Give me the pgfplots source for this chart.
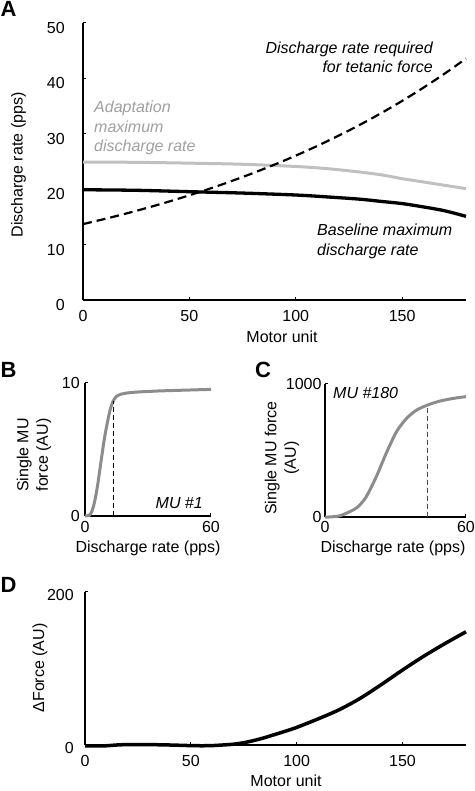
\documentclass[border=0pt]{standalone}
\usepackage{fontspec}
\setmainfont{Liberation Sans}
\usepackage{pgfplots}
\pgfplotsset{compat=1.18}
\definecolor{lgray}{RGB}{192,192,192}
\definecolor{tgray}{RGB}{160,160,160}
\definecolor{mgray}{RGB}{140,140,140}
\newcommand{\fs}{\fontsize{16}{19.5}\selectfont}
\pgfplotsset{
  myax/.style={
    scale only axis, axis lines=left, axis line style={-, line width=1.2pt},
    enlargelimits=false, clip=false,
    tick align=inside, major tick length=3pt, tick style={line width=1pt, black},
    /pgf/number format/assume math mode=true, /pgf/number format/1000 sep={},
    tick label style={font=\fs},
  }
}
\begin{document}
\begin{tikzpicture}[x=1pt,y=1pt]
\useasboundingbox (0,0) rectangle (474,791);
% ---------------- A
\begin{axis}[myax, at={(83pt,491pt)}, anchor=south west, width=383pt, height=277pt,
  xmin=0,xmax=180,ymin=0,ymax=50, xtick={0,50,100,150}, ytick={0,10,20,30,40,50},
  yticklabel style={xshift=-14.7pt, yshift=-5pt}, xticklabel style={yshift=-6.7pt}]
\addplot[lgray, line width=3pt, smooth, tension=0.5] coordinates {(0,24.9) (25,24.85) (50,24.7) (75,24.5) (100,24.1) (115,23.7) (130,23.1) (140,22.6) (150,21.9) (160,21.3) (170,20.7) (180,20.1)};
\addplot[black, line width=3.3pt, smooth, tension=0.5] coordinates {(0,19.9) (25,19.8) (50,19.55) (75,19.3) (100,18.95) (115,18.6) (130,18.2) (140,17.8) (150,17.4) (160,16.8) (170,16.1) (180,15.1)};
\addplot[black, line width=2.2pt, dash pattern=on 9pt off 5pt, smooth, tension=0.5] coordinates {(0,13.7) (10,14.61) (20,15.58) (30,16.62) (40,17.72) (50,18.90) (60,20.15) (70,21.49) (80,22.92) (90,24.44) (100,26.06) (110,27.79) (120,29.64) (130,31.60) (140,33.70) (150,35.94) (160,38.33) (170,40.87) (180,43.59)};
\end{axis}
% ---------------- B
\begin{axis}[myax, at={(85pt,275pt)}, anchor=south west, width=126pt, height=133pt,
  xmin=0,xmax=60,ymin=0,ymax=10, xtick={0,60}, ytick={0,10},
  yticklabel style={xshift=-1.7pt}, xticklabel style={yshift=-1.7pt}]
\addplot[mgray, line width=3pt, smooth, tension=0.4] coordinates {(0,0) (2,0.05) (3,0.25) (4,0.7) (5,1.4) (6,2.3) (7,3.4) (8,4.5) (9,5.6) (10,6.5) (11,7.3) (12,8.0) (13,8.5) (14,8.8) (15,9.0) (17,9.15) (20,9.25) (25,9.32) (35,9.4) (45,9.45) (60,9.52)};
\addplot[black, line width=1.2pt, dash pattern=on 5pt off 3pt] coordinates {(13.5,0) (13.5,8.65)};
\end{axis}
% ---------------- C
\begin{axis}[myax, at={(325pt,274pt)}, anchor=south west, width=141pt, height=133pt,
  xmin=0,xmax=60,ymin=0,ymax=1000, xtick={0,60}, ytick={0,1000},
  yticklabel style={xshift=0pt}, xticklabel style={yshift=-1pt}]
\addplot[mgray, line width=3pt, smooth, tension=0.5] coordinates {(0,0) (1.7,0) (6,8) (10.3,38) (13.9,75) (17.5,151) (21.8,302) (26,477) (30.4,640) (34.7,741) (39,804) (43.7,842) (49,872) (54.7,892) (60,905)};
\addplot[black!70, line width=1.2pt, dash pattern=on 5pt off 3pt] coordinates {(43.7,0) (43.7,838)};
\end{axis}
% ---------------- D
\begin{axis}[myax, at={(85pt,46pt)}, anchor=south west, width=381pt, height=153pt,
  xmin=0,xmax=180,ymin=0,ymax=200, xtick={0,50,100,150}, ytick={0,200},
  yticklabel style={xshift=-7.7pt, yshift=-3pt}, xticklabel style={yshift=-6.7pt}]
\addplot[black, line width=3.5pt, smooth, tension=0.5] coordinates {(0,-1) (5,-1) (10,-1) (15,0) (20,0.5) (30,0.5) (40,0) (50,-0.8) (55,-1) (60,-0.8) (65,0) (70,1) (75,3) (80,6) (85,9.7) (90,14) (95,18.3) (100,23) (110,34) (120,46) (130,61) (140,79) (150,98) (160,116) (170,132.5) (180,148)};
\end{axis}
% ---------------- texts
\node[anchor=north west, inner sep=0, font=\fontsize{22}{26}\selectfont\bfseries] at (0.5pt,790pt) {A};
\node[anchor=north west, inner sep=0, font=\fontsize{22}{26}\selectfont\bfseries] at (0.5pt,429pt) {B};
\node[anchor=north west, inner sep=0, font=\fontsize{22}{26}\selectfont\bfseries] at (255pt,429pt) {C};
\node[anchor=north west, inner sep=0, font=\fontsize{22}{26}\selectfont\bfseries] at (0.5pt,214pt) {D};
\node[anchor=base east, inner sep=0, font=\fs\itshape] at (433pt,737.7pt) {Discharge rate required};
\node[anchor=base east, inner sep=0, font=\fs\itshape] at (433pt,718.3pt) {for tetanic force};
\node[anchor=base west, inner sep=0, font=\fs\itshape, text=tgray] at (94pt,678pt) {Adaptation};
\node[anchor=base west, inner sep=0, font=\fs\itshape, text=tgray] at (94pt,658.5pt) {maximum};
\node[anchor=base west, inner sep=0, font=\fs\itshape, text=tgray] at (94pt,639pt) {discharge rate};
\node[anchor=base west, inner sep=0, font=\fs\itshape] at (317pt,555pt) {Baseline maximum};
\node[anchor=base west, inner sep=0, font=\fs\itshape] at (317pt,535pt) {discharge rate};
\node[rotate=90, font=\fs] at (18.5pt,626pt) {Discharge rate (pps)};
\node[font=\fs] at (282pt,454pt) {Motor unit};
\node[rotate=90, font=\fs, align=center] at (34pt,336pt) {Single MU\\force (AU)};
\node[font=\fs] at (148pt,243pt) {Discharge rate (pps)};
\node[anchor=east, inner sep=0, font=\fs\itshape] at (203pt,288pt) {MU \#1};
\node[rotate=90, font=\fs, align=center] at (282pt,333pt) {Single MU force\\(AU)};
\node[font=\fs] at (393pt,243pt) {Discharge rate (pps)};
\node[anchor=west, inner sep=0, font=\fs\itshape] at (333pt,398pt) {MU \#180};
\node[rotate=90, font=\fs] at (40pt,123pt) {ΔForce (AU)};
\node[font=\fs] at (286pt,10pt) {Motor unit};
\end{tikzpicture}
\end{document}
